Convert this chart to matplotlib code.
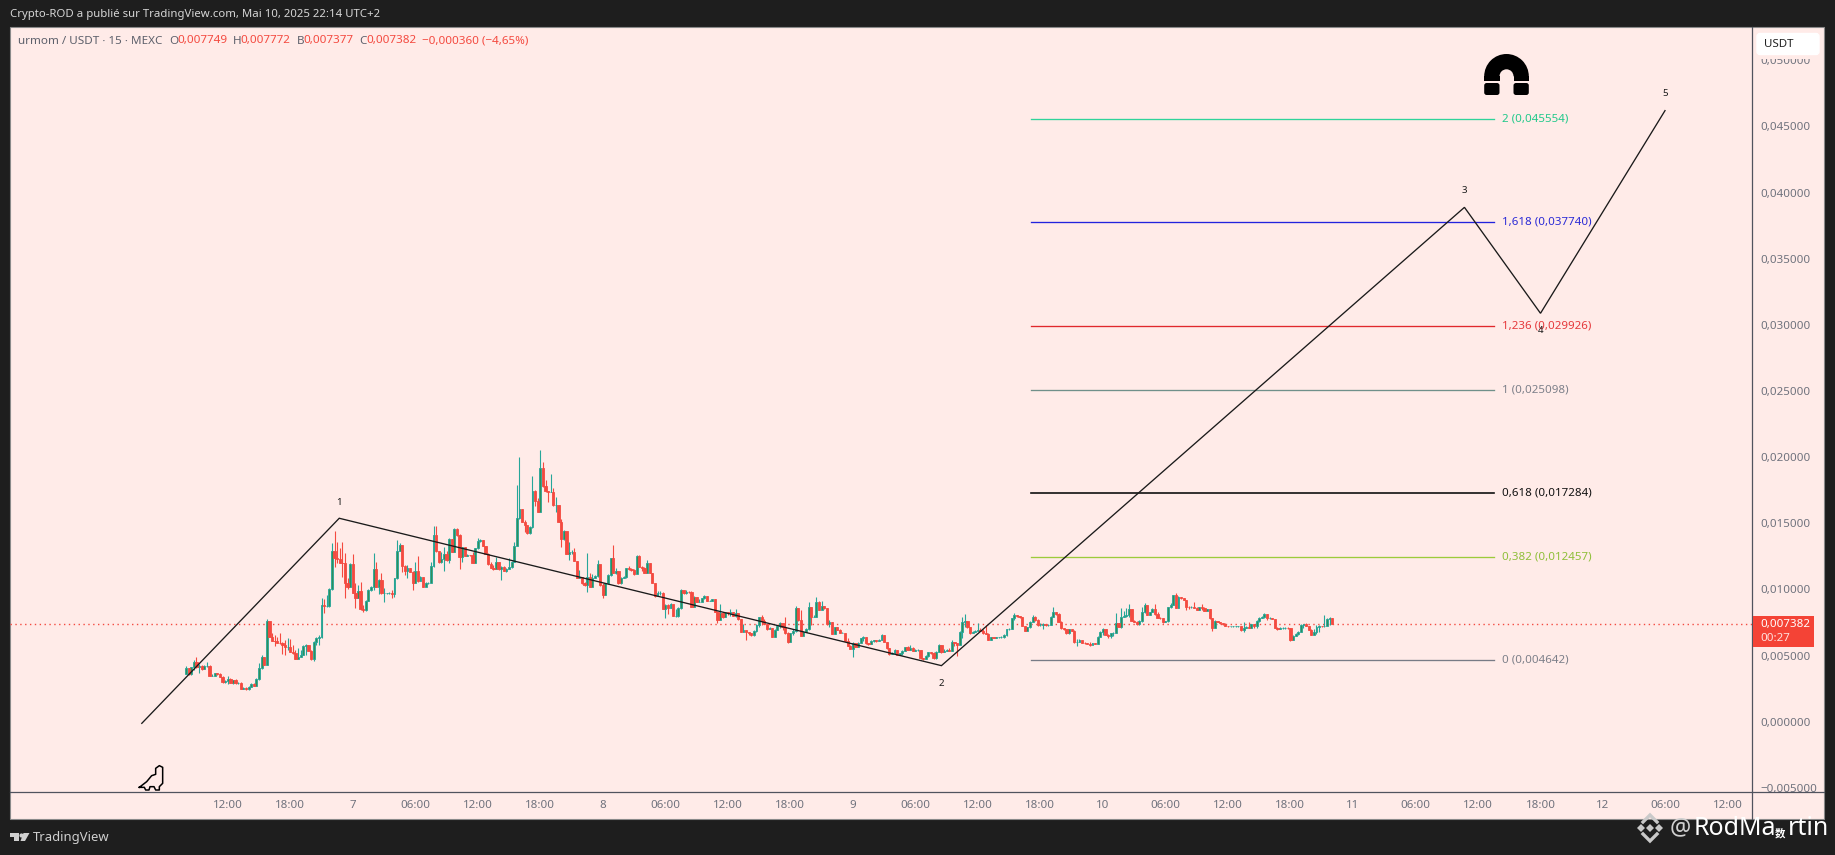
import numpy as np
import matplotlib
matplotlib.use('Agg')
import matplotlib.pyplot as plt
from matplotlib.patches import Rectangle, Wedge, FancyBboxPatch, Polygon

plt.rcParams['font.family'] = ['Noto Sans', 'DejaVu Sans']

W, H = 1835, 855
PANE = '#ffebe8'
DARK = '#1e1e1e'
AXIS = '#50535e'
GREY = '#6f727d'
RED = '#f44a40'

# candles in 1e-3 USDT, 15 minutes apart from May 6 08:00, open = previous close
first_open = 3.50
read_offset = 0.1
closes = [
    3.93,3.48,4.01,4.39,4.01,4.11,3.88,4.11,4.13,3.38,
    3.38,3.55,3.50,3.30,2.87,3.00,3.13,2.85,3.05,2.80,
    2.85,2.37,2.47,2.34,2.55,2.75,2.62,3.13,3.93,4.76,
    4.18,7.54,6.33,6.02,6.00,5.87,5.82,5.70,5.52,5.52,
    5.19,5.12,4.64,4.81,4.94,5.62,5.70,5.27,4.61,5.95,
    6.20,6.33,8.72,8.65,8.65,9.90,12.80,12.25,12.20,11.92,
    11.87,10.36,10.06,11.79,9.65,9.27,9.80,8.39,8.34,9.05,
    9.85,10.06,11.42,10.11,10.61,9.60,9.60,9.60,9.60,9.53,
    10.74,12.83,13.26,11.67,11.32,11.50,
    11.24,10.36,11.29,10.54,10.87,10.11,10.36,10.36,11.67,14.02,
    12.81,11.95,12.18,12.58,12.13,13.69,12.76,14.44,14.02,12.38,
    13.08,12.45,12.50,12.48,11.92,13.01,13.56,13.64,13.21,12.58,
    11.80,11.55,11.45,11.95,11.42,11.62,11.29,11.45,11.62,12.00,
    13.18,15.28,15.98,15.02,14.77,14.14,14.65,17.37,16.61,15.78,
    19.06,17.72,17.34,17.29,17.29,16.28,16.28,15.02,13.71,14.32,
    12.58,12.71,12.76,12.08,10.79,10.82,10.36,10.24,10.87,10.11,
    10.74,10.92,11.80,10.24,9.48,10.36,10.99,12.25,11.17,11.29,
    10.36,10.74,10.82,11.50,11.45,11.37,11.04,12.45,
    11.62,11.49,11.16,11.87,11.16,10.41,9.40,9.60,9.65,8.44,
    8.75,8.47,8.80,7.89,7.89,8.47,9.85,9.60,9.73,9.68,
    8.59,9.35,8.97,8.97,9.22,9.40,9.05,9.05,9.15,8.22,
    7.59,8.09,7.79,8.17,8.09,8.22,7.89,8.09,7.64,6.70,
    6.83,6.65,6.63,6.45,6.75,7.21,7.79,7.54,7.28,6.88,
    6.96,6.33,6.83,7.13,7.38,7.03,6.58,5.95,6.58,6.78,
    8.47,7.59,6.40,6.70,6.91,8.54,7.84,7.84,8.97,8.34,
    8.64,8.47,7.26,7.46,6.53,7.03,6.83,6.63,6.63,6.00,
    5.65,5.39,5.87,5.57,5.87,6.20,6.28,5.82,5.77,6.02,
    6.05,6.02,6.10,
    6.45,5.95,5.45,5.02,5.07,5.32,4.94,5.07,5.27,5.52,
    5.32,5.45,5.27,5.32,5.32,4.69,4.64,4.89,5.14,5.07,
    4.69,5.19,5.70,5.14,5.24,5.32,5.27,5.95,5.83,5.70,
    6.71,7.46,7.54,7.03,6.58,6.71,6.78,6.83,6.78,6.58,
    6.53,6.08,6.28,6.25,6.27,6.27,6.30,6.45,6.88,6.88,
    7.71,7.97,7.89,7.79,7.13,6.76,7.03,7.46,7.79,7.59,
    7.21,7.21,7.31,7.21,7.21,7.84,8.22,8.04,7.46,6.96,
    6.88,6.58,6.88,6.78,5.90,5.95,6.08,5.87,5.85,5.80,
    5.70,5.83,5.80,6.33,6.71,6.88,6.45,6.40,
    6.58,6.63,7.34,7.08,7.84,7.89,7.97,8.42,7.51,7.46,
    7.26,7.51,8.17,8.72,7.97,8.17,8.39,8.02,7.76,7.71,
    7.41,7.49,8.55,8.72,9.48,8.52,9.30,9.23,9.10,8.60,
    8.55,8.57,8.52,8.34,8.55,8.50,8.27,8.39,7.71,7.01,
    7.51,7.46,7.34,7.26,7.16,7.11,7.11,7.11,7.11,7.11,
    6.81,7.01,7.08,7.01,7.26,7.16,7.51,7.76,7.84,8.04,
    7.71,7.71,7.66,7.01,6.91,6.98,6.98,6.98,6.96,6.08,
    6.40,6.50,6.71,7.21,7.26,7.16,6.83,6.45,6.71,7.08,
    7.16,7.11,7.16,7.66,7.749,7.382,
]
highs = [
    4.11,3.93,4.06,4.56,4.81,4.26,4.18,4.18,4.39,4.16,
    3.48,3.60,3.60,3.55,3.35,3.05,3.35,3.18,3.08,3.10,
    2.87,2.90,2.50,2.50,2.60,2.80,2.80,3.18,4.36,4.91,
    4.81,7.64,7.46,6.58,6.48,6.33,6.58,5.95,6.07,6.20,
    6.12,5.70,5.32,5.44,5.32,5.70,5.75,5.70,5.32,6.02,
    6.33,6.48,9.22,9.17,9.48,9.98,13.43,14.31,13.51,13.00,
    13.51,12.63,10.74,11.87,12.58,10.36,10.23,10.48,8.72,9.10,
    9.90,10.16,12.63,11.96,10.66,11.11,9.98,9.65,9.73,9.85,
    10.79,13.63,13.38,13.26,11.74,11.74,
    11.50,11.29,11.95,12.43,10.94,10.82,10.44,10.44,12.00,14.70,
    14.70,12.76,12.76,13.13,12.81,13.76,13.69,14.52,14.52,14.07,
    13.13,13.08,12.55,12.53,12.76,13.06,13.76,13.69,13.64,13.21,
    12.63,11.95,11.75,12.38,11.95,11.67,11.67,11.50,12.25,12.05,
    13.46,17.80,19.89,15.98,15.15,14.70,14.70,18.48,17.42,16.79,
    20.44,19.51,18.17,17.37,18.60,17.54,16.91,16.28,15.23,14.39,
    14.14,13.51,12.88,13.01,12.08,11.37,10.82,10.44,12.63,11.12,
    11.07,10.97,12.13,11.75,10.36,10.41,11.04,12.30,13.26,11.50,
    11.29,10.87,10.89,11.55,11.67,11.50,11.42,12.50,
    12.50,11.67,11.57,12.12,11.87,11.16,10.36,9.80,9.80,9.73,
    8.80,8.80,8.85,8.59,8.39,8.54,9.90,9.78,9.85,9.80,
    9.78,9.40,9.35,9.15,9.27,9.48,9.43,9.10,9.17,9.15,
    8.27,8.80,8.09,8.22,8.19,8.39,8.22,8.39,8.09,7.64,
    7.26,6.75,6.70,6.63,6.83,7.26,7.84,7.96,7.64,7.26,
    7.03,6.96,6.88,7.21,7.46,7.38,7.79,6.70,6.63,6.88,
    8.65,8.52,8.34,6.75,6.96,8.92,8.54,7.96,9.35,9.02,
    9.02,8.64,8.47,7.59,7.41,7.08,7.08,6.88,6.68,6.63,
    6.25,5.70,5.92,5.87,5.95,6.25,6.38,6.28,5.87,6.07,
    6.10,6.08,6.15,
    6.50,6.45,5.95,5.45,5.17,5.37,5.32,5.12,5.32,5.57,
    5.62,5.70,5.52,5.37,5.40,5.32,4.74,4.94,5.19,5.19,
    5.14,5.24,5.75,5.70,5.37,5.42,5.45,6.08,5.90,5.83,
    6.76,7.84,8.04,7.54,7.08,6.78,6.83,7.34,6.96,6.91,
    7.21,6.58,6.33,6.28,6.30,6.30,6.35,6.50,6.93,6.96,
    7.76,8.09,7.97,7.89,7.79,7.13,7.08,7.54,7.97,7.89,
    7.64,7.34,7.39,7.29,7.29,7.89,8.55,8.22,8.14,7.51,
    6.96,6.88,6.93,6.88,6.83,6.13,6.18,6.03,5.90,5.87,
    5.90,5.87,5.85,6.38,6.76,6.96,6.88,6.50,
    6.63,6.68,8.09,7.34,8.52,8.27,8.52,8.77,8.42,7.59,
    7.51,7.56,8.60,8.85,8.72,8.22,8.47,8.77,8.17,7.84,
    7.71,7.54,8.60,8.85,9.50,9.60,9.40,9.33,9.23,9.10,
    8.62,8.65,8.92,8.55,8.60,8.77,8.55,8.44,8.42,7.71,
    7.56,7.54,7.46,7.39,7.34,7.16,7.14,7.14,7.14,7.14,
    7.11,7.46,7.14,7.46,7.31,7.31,7.59,7.84,7.91,8.12,
    8.04,7.79,7.71,7.66,7.06,7.03,7.03,7.06,7.03,6.96,
    6.45,6.58,6.76,7.26,7.31,7.36,7.16,6.91,6.91,7.21,
    7.21,7.16,7.97,7.71,7.80,7.772,
]
lows = [
    3.48,3.43,3.43,3.81,3.93,3.60,3.81,3.88,4.06,3.35,
    3.35,3.38,3.45,3.25,2.85,2.85,2.75,2.80,2.75,2.75,
    2.77,2.34,2.34,2.29,2.29,2.50,2.60,2.62,3.08,3.88,
    4.16,4.18,6.28,5.97,5.62,5.82,5.77,5.02,4.94,5.32,
    5.17,5.02,4.61,4.69,4.81,4.91,4.97,5.22,4.56,4.51,
    5.70,5.70,6.25,8.09,8.55,8.55,9.85,11.57,11.87,11.87,
    10.86,9.22,9.90,10.06,9.60,8.47,9.22,8.34,8.22,8.29,
    9.00,9.80,9.85,10.06,9.55,9.55,8.97,9.55,9.53,9.22,
    9.35,10.66,12.83,11.24,10.99,10.74,
    11.24,9.86,10.36,10.49,10.54,10.08,10.19,10.29,10.54,11.62,
    12.76,11.92,11.87,11.32,12.08,11.87,12.71,12.71,13.97,11.45,
    11.95,12.40,12.45,12.45,11.87,11.92,12.93,13.51,13.18,12.55,
    11.75,11.50,11.40,11.42,11.40,10.61,11.27,11.24,11.55,11.55,
    12.00,13.26,15.23,14.97,14.27,14.09,14.09,14.57,16.23,15.73,
    15.78,17.67,17.29,16.54,17.24,16.23,15.78,14.97,13.13,13.66,
    12.55,12.13,12.55,12.03,10.74,10.77,10.31,10.16,9.73,10.06,
    10.69,10.74,10.87,10.19,9.23,9.48,10.31,10.94,11.12,11.04,
    10.31,10.31,10.74,10.79,11.40,11.32,10.99,11.12,
    11.57,11.32,11.14,11.16,11.14,10.36,9.30,9.48,9.48,8.42,
    7.71,8.04,8.52,7.86,7.84,7.84,8.39,9.55,9.55,9.65,
    8.57,8.64,8.95,8.95,9.05,9.20,9.02,9.00,9.02,8.19,
    7.38,7.64,7.74,7.79,7.94,7.89,7.86,7.79,7.59,6.68,
    6.68,6.07,6.43,6.38,6.38,6.70,7.08,7.21,7.26,6.83,
    6.88,6.30,6.33,6.83,6.96,6.83,6.53,5.87,5.90,6.43,
    6.70,7.54,6.38,6.43,6.68,6.83,7.21,7.79,7.79,8.32,
    8.59,8.44,7.21,7.08,6.50,6.53,6.80,6.60,6.58,5.97,
    5.62,5.37,4.81,5.54,5.52,5.82,5.97,5.80,5.67,5.75,
    5.95,5.95,6.00,
    6.08,5.92,5.42,4.97,5.02,5.00,4.92,5.00,4.97,5.24,
    5.30,5.32,5.22,5.27,5.27,4.67,4.59,4.67,4.82,5.04,
    4.67,4.67,5.14,5.12,5.19,5.24,5.22,5.24,5.65,4.89,
    5.77,6.20,7.08,7.01,6.56,6.58,6.71,6.76,6.76,6.56,
    6.50,6.05,6.10,6.22,6.22,6.24,6.25,6.25,6.38,6.83,
    6.88,7.59,7.84,7.71,7.11,6.73,6.88,6.96,7.41,7.54,
    7.16,7.16,6.88,7.16,7.16,7.21,7.79,7.99,7.44,6.93,
    6.83,6.56,6.56,6.73,5.87,5.62,5.93,5.83,5.80,5.75,
    5.65,5.77,5.75,5.77,6.28,6.45,6.43,6.20,
    6.20,6.40,6.58,7.03,7.01,7.81,7.81,7.84,7.49,7.41,
    7.24,7.24,7.46,8.14,7.94,7.97,8.17,7.99,7.74,7.69,
    7.39,7.44,7.41,8.52,8.72,8.50,8.50,9.20,9.07,8.34,
    8.42,8.52,8.47,8.32,8.32,8.32,8.24,8.34,7.69,6.78,
    6.98,7.41,7.31,7.24,7.14,7.08,7.08,7.08,7.08,7.08,
    6.78,6.71,6.98,6.98,6.98,7.01,7.01,7.46,7.71,7.76,
    7.59,7.69,7.64,6.98,6.86,6.93,6.93,6.93,6.93,6.00,
    6.05,6.38,6.45,6.71,6.96,7.14,6.81,6.43,6.53,6.56,
    6.71,7.08,7.08,7.21,7.21,7.377,
]
last_price = 0.007382

# wave drawing: hours since May 6 00:00, price
wave_hours = [3.75, 22.7, 80.5, 130.7, 138.0, 149.95]
wave_prices = [-0.00012, 0.01538, 0.00424, 0.03888, 0.03087, 0.04619]
wave_labels = ['1', '2', '3', '4', '5']

fib_levels = [2, 1.618, 1.236, 1, 0.618, 0.382, 0]
fib_prices = [0.045554, 0.037740, 0.029926, 0.025098, 0.017284, 0.012457, 0.004642]
fib_colors = ['#2fd39a', '#2222dd', '#e0282c', '#70908a', '#111111', '#9ccb3b', '#787b86']
fib_text_colors = ['#22c98b', '#2a2ad6', '#e5393c', '#7d808a', '#111111', '#8fbf3a', '#7d808a']
fib_start, fib_end = 89.1, 133.5

price_ticks = [-0.005, 0, 0.005, 0.01, 0.015, 0.02, 0.025, 0.03, 0.035, 0.04, 0.045, 0.05]
time_ticks = [12, 18, 24, 30, 36, 42, 48, 54, 60, 66, 72, 78, 84, 90, 96, 102, 108, 114, 120,
              126, 132, 138, 144, 150, 156]
time_labels = ['12:00', '18:00', '7', '06:00', '12:00', '18:00', '8', '06:00', '12:00', '18:00',
               '9', '06:00', '12:00', '18:00', '10', '06:00', '12:00', '18:00', '11',
               '06:00', '12:00', '18:00', '12', '06:00', '12:00']


def price_str(v):
    s = '%.6f' % abs(v)
    s = s.replace('.', ',')
    return ('\u2212' + s) if v < 0 else s


fig = plt.figure(figsize=(W / 100, H / 100), dpi=100, facecolor=DARK)

# overlay in pixel coordinates for the page furniture
back = fig.add_axes([0, 0, 1, 1], zorder=0)
back.set_xlim(0, W)
back.set_ylim(H, 0)
back.axis('off')
back.add_patch(Rectangle((10, 27), 1814, 792, fc=PANE, ec='#8a8a8a', lw=0.8))

left, right, top, bottom = 10, 1752, 27, 792
ax = fig.add_axes([left / W, 1 - bottom / H, (right - left) / W, (bottom - top) / H], zorder=1)
ax.patch.set_alpha(0)
ax.set_xlim(-8.9, 158.3)
ax.set_ylim(-0.00531, 0.05251)

close_arr = (np.array(closes) + read_offset) / 1000
open_arr = (np.append(first_open, closes[:-1]) + read_offset) / 1000
high_arr = (np.array(highs) + read_offset) / 1000
low_arr = (np.array(lows) + read_offset) / 1000
close_arr[-1] = last_price
hours = 8 + 0.25 * np.arange(len(close_arr))

up = close_arr >= open_arr
wick_colors = np.where(up, '#26a69a', RED)
ax.vlines(hours, low_arr, high_arr, colors=wick_colors, lw=0.8, zorder=2)
ax.bar(hours[up], (close_arr - open_arr)[up], bottom=open_arr[up], width=0.18,
       fc='#2f8f5b', ec='#26a69a', lw=0.6, zorder=3)
ax.bar(hours[~up], (close_arr - open_arr)[~up], bottom=open_arr[~up], width=0.22,
       fc=RED, ec=RED, lw=0.6, zorder=3)

ax.axhline(last_price, color=RED, ls=(0, (1, 2.5)), lw=1.0, zorder=1)

for lev, p, c, tc in zip(fib_levels, fib_prices, fib_colors, fib_text_colors):
    ax.plot([fib_start, fib_end], [p, p], color=c, lw=1.2 if lev == 0.618 else 0.95, zorder=4)
    ax.annotate('%s (%s)' % (str(lev).replace('.', ','), price_str(p)), (fib_end, p),
                xytext=(6, 0), textcoords='offset points', va='center', ha='left',
                color=tc, fontsize=8.3, zorder=5)

ax.plot(wave_hours, wave_prices, color='#1a1a1a', lw=0.95, zorder=6, solid_joinstyle='miter')
offsets = [11.5, -12.5, 12, -12.5, 12]
for h, p, lab, off in zip(wave_hours[1:], wave_prices[1:], wave_labels, offsets):
    ax.annotate(lab, (h, p), xytext=(0, off), textcoords='offset points', ha='center',
                va='center', fontsize=7, fontweight='bold', color='#1a1a1a', zorder=7)

ax.yaxis.tick_right()
ax.set_yticks(price_ticks)
ax.set_yticklabels([price_str(v) for v in price_ticks])
ax.tick_params(axis='y', length=0, pad=5.8, labelsize=8.3, labelcolor=GREY)
ax.set_xticks(time_ticks)
ax.set_xticklabels(time_labels)
ax.tick_params(axis='x', length=0, pad=5.5, labelsize=8.3, labelcolor=GREY)
for name, spine in ax.spines.items():
    spine.set_visible(name == 'right')
    spine.set_color(AXIS)
    spine.set_linewidth(0.9)

# everything on top in pixel coordinates again
front = fig.add_axes([0, 0, 1, 1], zorder=2)
front.patch.set_alpha(0)
front.set_xlim(0, W)
front.set_ylim(H, 0)
front.axis('off')
front.plot([10, 1824], [792, 792], color=AXIS, lw=0.9)
front.plot([1752, 1752], [792, 819], color=AXIS, lw=0.9)

front.text(9.5, 14, 'Crypto-ROD a publié sur TradingView.com, Mai 10, 2025 22:14 UTC+2',
           color='#d6d6d6', fontsize=8.2, va='center')

legend_y = 41
front.text(18, legend_y, 'urmom / USDT · 15 · MEXC', color='#5d606b', fontsize=8.4, va='center')
legend_parts = [(169, 'O', '#5d606b'), (177, '0,007749', RED),
                (233, 'H', '#5d606b'), (240, '0,007772', RED),
                (296.5, 'B', '#5d606b'), (303.6, '0,007377', RED),
                (359, 'C', '#5d606b'), (366, '0,007382', RED),
                (421.7, '\u22120,000360 (\u22124,65%)', RED)]
for x, s, c in legend_parts:
    front.text(x, legend_y, s, color=c, fontsize=8.4, va='center')

# USDT button and last price tag
front.add_patch(Rectangle((1754, 54), 68, 5.3, fc=PANE, ec='none'))
front.add_patch(FancyBboxPatch((1757, 33.5), 62, 21, boxstyle='round,pad=0,rounding_size=3',
                               fc='white', ec='white', lw=1))
front.text(1764, 44.5, 'USDT', color='#222222', fontsize=8.3, va='center')
front.add_patch(Rectangle((1752.5, 616), 61.5, 31, fc='#f44336', ec='none'))
front.text(1760, 624, price_str(last_price), color='white', fontsize=8.3, fontweight='bold', va='center')
front.text(1760, 638, '00:27', color='#ffe0dc', fontsize=8.3, va='center')

# magnet icon
front.add_patch(Wedge((1506.5, 76.3), 22.3, 180, 360, width=15.3, fc='black', ec='none'))
front.add_patch(Rectangle((1484.2, 76.2), 15.3, 5.2, fc='black', ec='none'))
front.add_patch(Rectangle((1513.5, 76.2), 15.3, 5.2, fc='black', ec='none'))
for x0 in (1484.2, 1513.5):
    front.add_patch(FancyBboxPatch((x0, 83), 15.3, 12, boxstyle='round,pad=0,rounding_size=2.5',
                                   fc='black', ec='none'))

# dinosaur icon
dino_x = np.array([418, 440, 455, 467, 467, 478, 488, 488, 478, 478, 467, 462, 450, 447, 437, 433, 418]) / 3
dino_y = 740 + np.array([142, 125, 107, 103, 85, 77, 82, 130, 140, 150, 150, 140, 140, 150, 150, 142, 142]) / 3
front.plot(dino_x, dino_y, color='black', lw=1.1)

# TradingView logo
logo = '#d0d0d0'
front.add_patch(Polygon([(10, 833), (18.5, 833), (18.5, 841), (14, 841), (14, 836.5), (10, 836.5)],
                        fc=logo, ec='none'))
front.add_patch(Polygon([(23.5, 833), (29.5, 833), (25, 841), (20.5, 841)], fc=logo, ec='none'))
front.plot([20.7], [835], 'o', color=logo, ms=3, mew=0)
front.text(33, 837, 'TradingView', color='#cfcfcf', fontsize=9.4, va='center')

# watermark
mark = '#c9c9c9'
front.plot([1650, 1641, 1659], [828, 828, 828], 'D', color=mark, ms=3.6, mew=0)
front.plot([1643, 1650, 1657], [822, 815, 822], color=mark, lw=2.4, solid_joinstyle='miter')
front.plot([1643, 1650, 1657], [834, 841, 834], color=mark, lw=2.4, solid_joinstyle='miter')
front.text(1670, 828, '@', color='#d0d0d0', fontsize=17, va='center')
front.text(1694, 828, 'RodMa', color='white', fontsize=18, va='center')
front.text(1788, 828, 'rtin', color='white', fontsize=18, va='center')
front.text(1780, 833, '数', color='white', fontsize=7.5, fontweight='bold', va='center', ha='center',
           family=['Noto Sans CJK SC', 'DejaVu Sans'])

fig.savefig('out.png', dpi=100, facecolor=DARK)
